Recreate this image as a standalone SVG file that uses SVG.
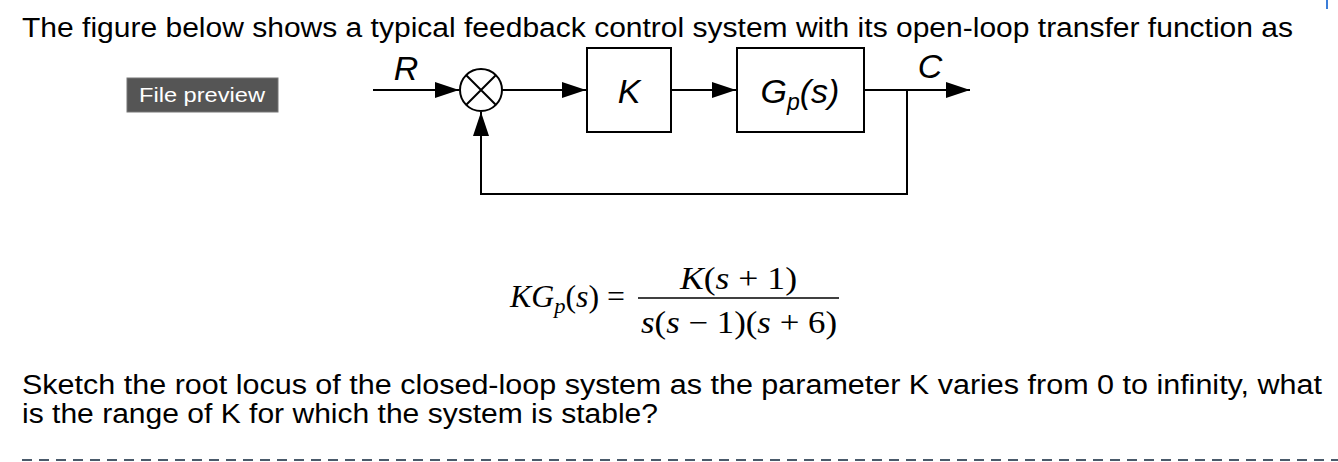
<svg xmlns="http://www.w3.org/2000/svg" width="1338" height="462" viewBox="0 0 1338 462">
<style>
.t{font-family:"Liberation Sans",Arial,sans-serif;font-size:27px;fill:#000}
.l{fill:none;stroke:#000;stroke-width:2}
.i{font-family:"Liberation Sans",Arial,sans-serif;font-style:italic;font-size:34px;fill:#000}
.m{font-family:"Liberation Serif","DejaVu Serif",serif;font-size:31px;fill:#000}
</style>
<defs><marker id="a" markerWidth="24" markerHeight="16" refX="24" refY="8" orient="auto" markerUnits="userSpaceOnUse"><path d="M0,0L24,8L0,16z" fill="#000"/></marker></defs>
<rect width="1338" height="462" fill="#fff"/>
<rect x="1326" y="0" width="2" height="9" fill="#3b7dd8"/>
<text class="t" x="22" y="37" textLength="1271" lengthAdjust="spacingAndGlyphs">The figure below shows a typical feedback control system with its open-loop transfer function as</text>
<g id="preview"><rect x="127" y="78" width="151" height="34" fill="#555" stroke="#777"/><text x="202" y="102" text-anchor="middle" font-family="'Liberation Sans',Arial,sans-serif" font-size="21" fill="#fff" textLength="126" lengthAdjust="spacingAndGlyphs">File preview</text></g>
<g id="sum"><circle cx="481" cy="90" r="21" class="l"/><path class="l" d="M466,75L496,105M496,75L466,105"/></g>
<g id="k"><rect x="587" y="48" width="84" height="84" class="l"/><text class="i" x="629" y="103" text-anchor="middle">K</text></g>
<g id="gp"><rect x="737" y="48" width="127" height="84" class="l"/><text class="i" x="800" y="103" text-anchor="middle">G<tspan font-size="23" dy="7">p</tspan><tspan dy="-7">(s)</tspan></text></g>
<g id="connectors">
<path class="l" d="M373,90H459" marker-end="url(#a)"/>
<path class="l" d="M502,90H586" marker-end="url(#a)"/>
<path class="l" d="M671,90H736" marker-end="url(#a)"/>
<path class="l" d="M864,90H970" marker-end="url(#a)"/>
<path class="l" d="M907,90V194H481V112" marker-end="url(#a)"/>
</g>
<text class="i" x="406" y="80" text-anchor="middle">R</text>
<text class="i" x="930" y="78" text-anchor="middle">C</text>
<g id="formula">
<text class="m" x="510" y="307" font-style="italic" textLength="115" lengthAdjust="spacingAndGlyphs">KG<tspan font-size="22" dy="6">p</tspan><tspan dy="-6" font-style="normal">(</tspan>s<tspan font-style="normal">) =</tspan></text>
<text class="m" x="680" y="289" textLength="117" lengthAdjust="spacingAndGlyphs"><tspan font-style="italic">K</tspan>(<tspan font-style="italic">s</tspan> + 1)</text>
<line x1="638" y1="298" x2="839" y2="298" stroke="#000" stroke-width="1.5"/>
<text class="m" x="641" y="333" textLength="196" lengthAdjust="spacingAndGlyphs"><tspan font-style="italic">s</tspan>(<tspan font-style="italic">s</tspan> − 1)(<tspan font-style="italic">s</tspan> + 6)</text>
</g>
<text class="t" x="22" y="394" textLength="1300" lengthAdjust="spacingAndGlyphs">Sketch the root locus of the closed-loop system as the parameter K varies from 0 to infinity, what</text>
<text class="t" x="22" y="423" textLength="636" lengthAdjust="spacingAndGlyphs">is the range of K for which the system is stable?</text>
<line x1="22" y1="460" x2="1338" y2="460" stroke="#4a5a6a" stroke-width="2" stroke-dasharray="10,7"/>
</svg>
